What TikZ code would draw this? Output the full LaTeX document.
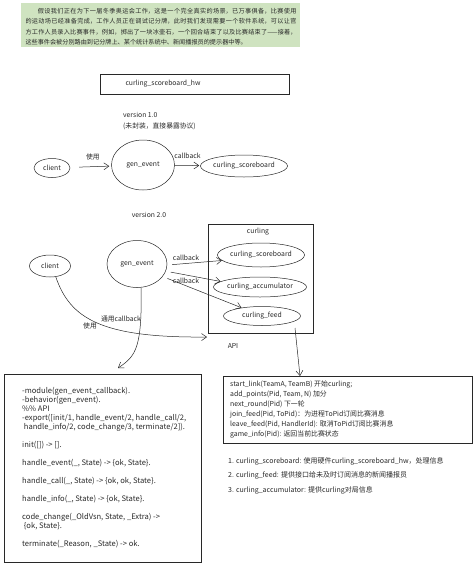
\documentclass[tikz,border=0pt]{standalone}
\usepackage{fontspec}
\setmainfont{Noto Sans CJK SC}
\usetikzlibrary{shapes.geometric,arrows.meta}
\XeTeXlinebreaklocale "zh"
\XeTeXlinebreakskip=0pt plus 1pt
\definecolor{greenbg}{RGB}{207,227,192}
\definecolor{inkc}{RGB}{40,40,40}
\begin{document}
\begin{tikzpicture}[x=1pt,y=-1pt,
  ln/.style={draw=inkc, line width=0.5pt},
  ell/.style={ellipse, ln, inner sep=0pt, text=inkc, font=\fontsize{6.8}{8}\selectfont},
  arr/.style={ln, -{Straight Barb[length=5pt,width=7pt]}},
  lbl/.style={font=\fontsize{6.8}{8}\selectfont, inner sep=0pt, text=inkc},
  boxs/.style={ln, rectangle, inner sep=0pt},
  txt/.style={font=\fontsize{6.8}{8}\selectfont, inner sep=0pt, text=inkc, align=left}
]
\useasboundingbox (0,0) rectangle (474,566);
% intro
\node[fill=greenbg, minimum width=279, minimum height=44, inner sep=0pt] (introbg) at (160.5,25) {};
\node[inner sep=0pt, text width=271pt, text=inkc, font=\fontsize{6.15}{10.5}\selectfont, align=justify] (intro) at (161,26.5)
{\hspace*{2em}假设我们正在为下一届冬季奥运会工作，这是一个完全真实的场景，已万事俱备，比赛使用\linebreak 的运动场已经准备完成，工作人员正在调试记分牌，此时我们发现需要一个软件系统，可以让官\linebreak 方工作人员录入比赛事件，例如，掷出了一块冰壶石，一个回合结束了以及比赛结束了——接着，\linebreak 这些事件会被分别路由到记分牌上、某个统计系统中、新闻播报员的提示器中等。};
% hw box
\node[boxs, minimum width=189, minimum height=20] (hw) at (194.5,84) {};
\node[lbl] (hwt) at (163,84) {curling\_scoreboard\_hw};
% version 1
\node[txt, anchor=west] (v1) at (123,115) {version 1.0};
\node[txt, anchor=west] (v1b) at (123,126) {(未封装，直接暴露协议)};
\node[ell, minimum width=36, minimum height=19] (c1) at (52,168) {client};
\node[ell, minimum width=63, minimum height=50] (g1) at (143,165) {gen\_event};
\node[ell, minimum width=76, minimum height=22] (s1) at (244,166) {curling\_scoreboard};
\draw[arr, shorten <=9pt, shorten >=2pt] (c1) -- (g1) node[lbl, pos=0.55, above=6pt] {使用};
\draw[arr, shorten >=1pt] (g1) -- (s1) node[lbl, midway, above=7pt] {callback};
% version 2
\node[txt] (v2) at (149,215) {version 2.0};
\node[boxs, minimum width=105, minimum height=109] (cb) at (260.5,278.5) {};
\node[lbl] (cbt) at (258,232) {curling};
\node[ell, minimum width=78, minimum height=24] (s2) at (261,255) {curling\_scoreboard};
\node[ell, minimum width=77, minimum height=20] (a2) at (260,287) {curling\_accumulator};
\node[ell, minimum width=77, minimum height=19] (f2) at (262,316) {curling\_feed};
\node[ell, minimum width=41, minimum height=22] (c2) at (50,266) {client};
\node[ell, minimum width=60, minimum height=47] (g2) at (137,264) {gen\_event};
\draw[arr, shorten <=5pt] (g2.-2) -- (s2.188);
\draw[arr, shorten <=5pt] (g2.-14) -- (a2.172);
\draw[arr, shorten <=5pt] (g2.-26) -- (f2.158);
\node[lbl] (cl1) at (186,258) {callback};
\node[lbl] (cl2) at (186,281) {callback};
\coordinate (apil) at (207,337);
\draw[arr] (c2.-62) .. controls (70,318) and (100,338) .. (apil);
\node[lbl] (u2) at (90,326) {使用};
\node[lbl] (u3) at (121,319) {通用callback};
\node[lbl] (apit) at (233,346) {API};
% code box
\node[boxs, minimum width=197, minimum height=188] (code) at (102.5,468) {};
\coordinate (codein) at (118,368);
\draw[arr] (g2.-80) .. controls (142,348) and (136,356) .. (codein);
\node[txt, anchor=north west, font=\fontsize{7.6}{9}\selectfont] (codet) at (22,387) {%
-module(gen\_event\_callback).\\
-behavior(gen\_event).\\
\%\% API\\
-export([init/1, handle\_event/2, handle\_call/2,\\
\ handle\_info/2, code\_change/3, terminate/2]).\\[9pt]
init([]) -> [].\\[9pt]
handle\_event(\_, State) -> \{ok, State\}.\\[9pt]
handle\_call(\_, State) -> \{ok, ok, State\}.\\[9pt]
handle\_info(\_, State) -> \{ok, State\}.\\[9pt]
code\_change(\_OldVsn, State, \_Extra) ->\\
\ \{ok, State\}.\\[9pt]
terminate(\_Reason, \_State) -> ok.};
% api box
\node[boxs, minimum width=249, minimum height=67] (api) at (347.5,409.5) {};
\coordinate (cbout) at (295,328);
\coordinate (apiin) at (300,376);
\draw[arr] (cbout) -- (apiin);
\node[txt, anchor=north west, font=\fontsize{6.9}{10}\selectfont] (apit2) at (230,380) {%
start\_link(TeamA, TeamB) 开始curling;\\
add\_points(Pid, Team, N) 加分\\
next\_round(Pid) 下一轮\\
join\_feed(Pid, ToPid)：为进程ToPid订阅比赛消息\\
leave\_feed(Pid, HandlerId): 取消ToPid订阅比赛消息\\
game\_info(Pid): 返回当前比赛状态};
% list
\node[txt, anchor=north west, font=\fontsize{7}{14.5}\selectfont] (lst) at (228,457) {%
1. curling\_scoreboard: 使用硬件curling\_scoreboard\_hw，处理信息\\
2. curling\_feed: 提供接口给未及时订阅消息的新闻播报员\\
3. curling\_accumulator: 提供curling对局信息};
\end{tikzpicture}
\end{document}
